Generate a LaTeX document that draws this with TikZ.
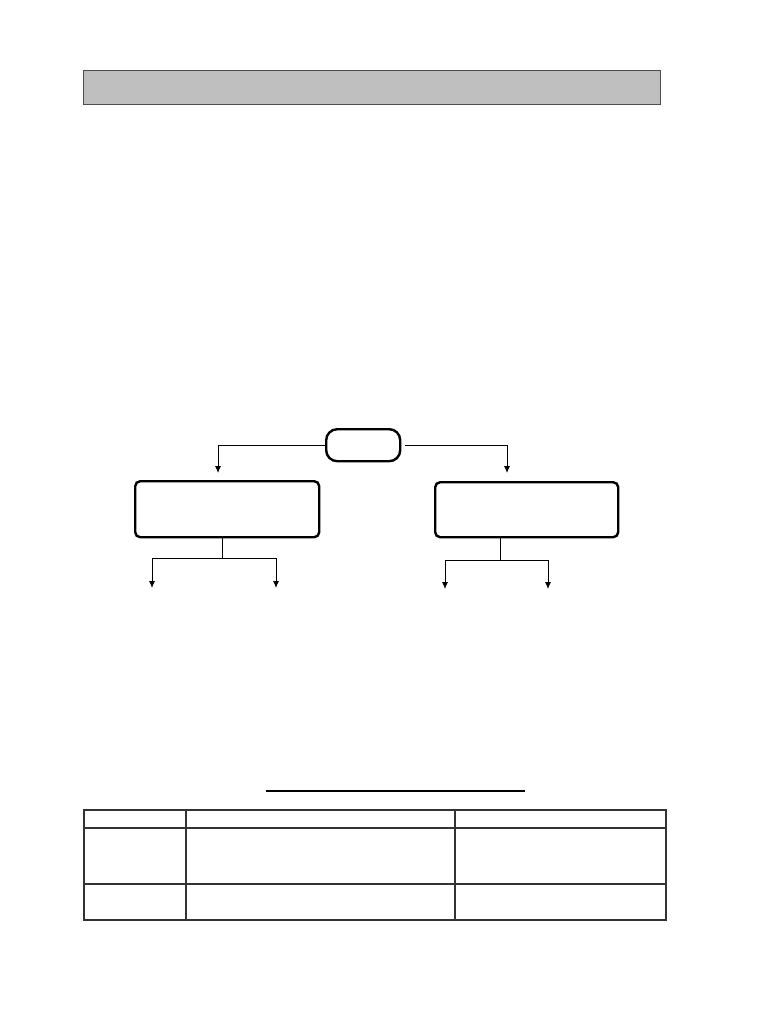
\documentclass[tikz,border=0pt]{standalone}
\usetikzlibrary{arrows.meta}
\begin{document}
\begin{tikzpicture}[x=1pt,y=-1pt,
  titlebar/.style={draw=black!70,line width=1pt,fill=black!25,rectangle,inner sep=0pt,anchor=north west},
  rbox/.style={draw=black,line width=2.4pt,rounded corners=5pt,rectangle,inner sep=0pt,anchor=north west},
  pill/.style={draw=black,line width=2.4pt,rounded corners=11pt,rectangle,inner sep=0pt,anchor=north west},
  conn/.style={draw=black,line width=0.9pt},
  arr/.style={conn,-{Latex[length=7pt,width=6pt]}},
  grid/.style={draw=black!80,line width=1.4pt}]
\useasboundingbox (0,0) rectangle (768,1024);
% title bar
\node[titlebar,minimum width=577pt,minimum height=34pt] (bar) at (83,70) {};
% top pill
\node[pill,minimum width=74pt,minimum height=32pt] (top) at (325,428) {};
% boxes
\node[rbox,minimum width=184pt,minimum height=56pt] (lb) at (134,480) {};
\node[rbox,minimum width=183pt,minimum height=55pt] (rb) at (434,481) {};
% coordinates
\coordinate (la) at (218,473);
\coordinate (ra) at (507,473);
\coordinate (ls) at (222,537);
\coordinate (lj) at (222,558);
\coordinate (l1) at (152,588);
\coordinate (l2) at (276,588);
\coordinate (rs) at (500,538);
\coordinate (rj) at (500,560);
\coordinate (r1) at (445,589);
\coordinate (r2) at (548,589);
% connectors
\draw[arr] (top.west) -| (la);
\draw[arr,shorten <=4pt] (top.east) -| (ra);
\draw[conn] (ls) -- (lj);
\draw[arr] (lj) -| (l1);
\draw[arr] (lj) -| (l2);
\draw[conn] (rs) -- (rj);
\draw[arr] (rj) -| (r1);
\draw[arr] (rj) -| (r2);
% underline
\coordinate (u1) at (266,791);
\coordinate (u2) at (525,791);
\draw[line width=2pt] (u1) -- (u2);
% table
\coordinate (t1) at (84,810);
\coordinate (t2) at (666,920);
\draw[grid] (t1) rectangle (t2);
\draw[grid] (84,828) -- (666,828);
\draw[grid] (84,884) -- (666,884);
\draw[grid] (186,810) -- (186,920);
\draw[grid] (455,810) -- (455,920);
\end{tikzpicture}
\end{document}
